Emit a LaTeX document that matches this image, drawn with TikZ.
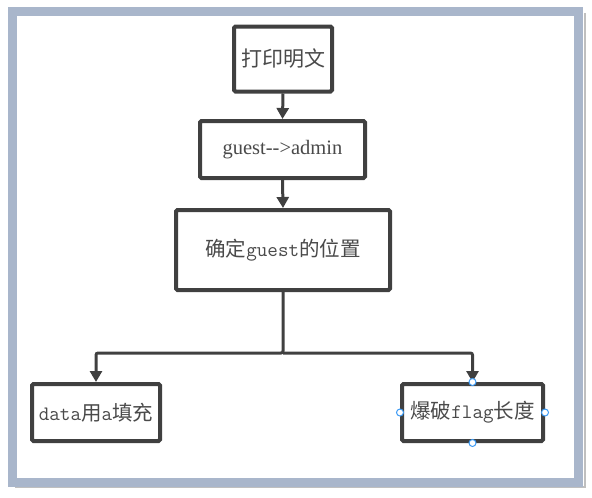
\documentclass[tikz,border=0pt]{standalone}
\usepackage{fontspec}
\setmainfont{Liberation Serif}
\newfontfamily\cjk{Noto Sans CJK SC}
\usetikzlibrary{arrows.meta}
\definecolor{framecol}{HTML}{A9B6CB}
\definecolor{linecol}{HTML}{404040}
\definecolor{textcol}{HTML}{4A4A4A}
\definecolor{handlecol}{HTML}{3D9BF5}
\tikzset{
  flowbox/.style={draw=linecol, line width=4pt, rounded corners=1.5pt, fill=white,
    inner sep=0pt, text=textcol, align=center},
  conn/.style={draw=linecol, line width=3pt, rounded corners=2pt,
    -{Triangle[width=12pt,length=11pt]}},
  handle/.style={circle, draw=handlecol, fill=white, line width=1pt,
    inner sep=0pt, minimum size=7pt},
}
\begin{document}
\begin{tikzpicture}[x=1pt,y=-1pt]
\useasboundingbox (0,0) rectangle (592,498);
% frame shadow and frame
\draw[black!25, line width=2pt] (15,486.5) -- (584.5,486.5) -- (584.5,13);
\draw[framecol, line width=9pt] (12.5,11.5) rectangle (578.5,482.5);
% boxes
\node[flowbox, minimum width=98pt, minimum height=65pt, font=\cjk\fontsize{21}{24}\selectfont]
  (b1) at (283,59) {打印明文};
\node[flowbox, minimum width=165pt, minimum height=57pt, font=\fontsize{20.5}{24}\selectfont]
  (b2) at (282.5,149.5) {guest{-}{-}>admin};
\node[flowbox, minimum width=214pt, minimum height=80pt, font=\fontsize{20.5}{24}\selectfont]
  (b3) at (283,250) {{\cjk 确定}{\ttfamily guest}{\cjk 的位置}};
\node[flowbox, minimum width=128pt, minimum height=57pt, font=\fontsize{20.5}{24}\selectfont]
  (b4) at (96,412.5) {{\ttfamily data}{\cjk 用}{\ttfamily a}{\cjk 填充}};
\node[flowbox, minimum width=141pt, minimum height=57pt, font=\fontsize{20.5}{24}\selectfont]
  (b5) at (472.5,412.5) {{\cjk 爆破}{\ttfamily flag}{\cjk 长度}};
% connectors
\coordinate (split) at (283,353);
\draw[conn] (b1.south) -- (b2.north);
\draw[conn] (b2.south) -- (b3.north);
\draw[conn] (b3.south) -- (split) -| (b4.north);
\draw[conn] (split) -| (b5.north);
% selection handles
\node[handle] (h1) at (b5.north) {};
\node[handle] (h2) at (b5.south) {};
\node[handle] (h3) at (b5.west) {};
\node[handle] (h4) at (b5.east) {};
\end{tikzpicture}
\end{document}
